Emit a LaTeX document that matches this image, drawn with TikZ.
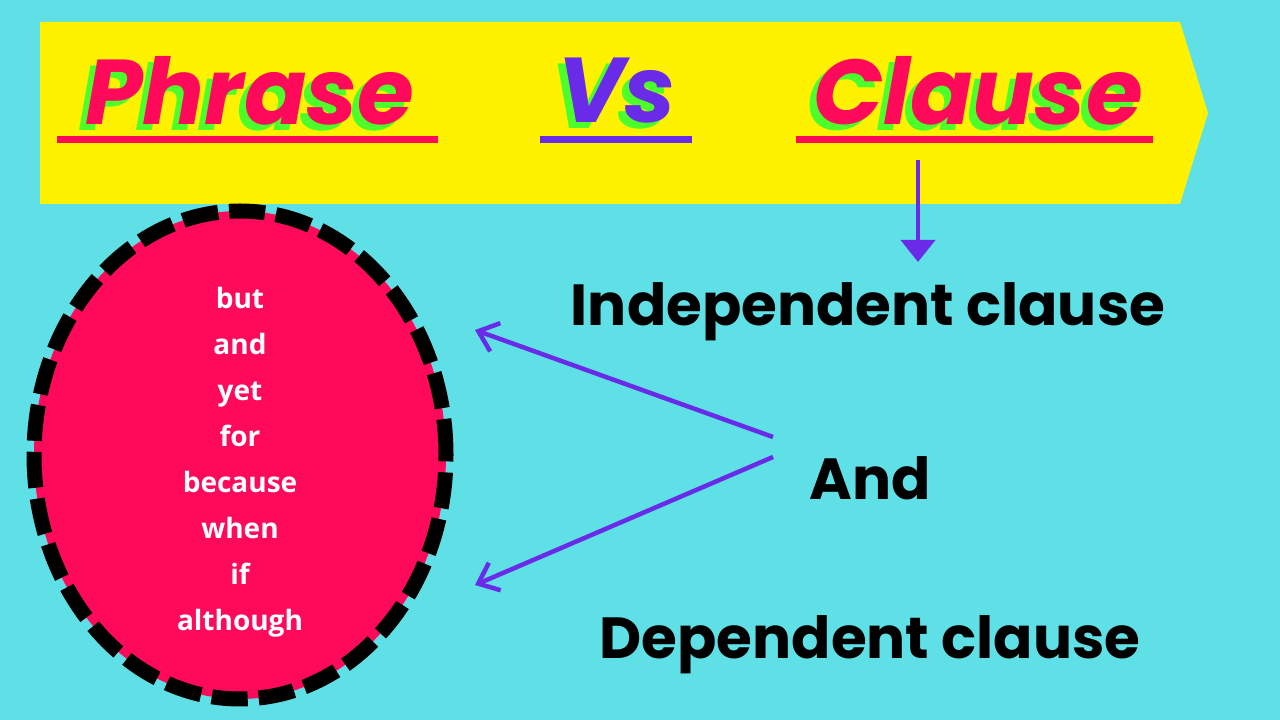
\documentclass[tikz,border=0pt]{standalone}
\usepackage{fontspec}
\setmainfont{Poppins}
\newfontfamily\listfont{Open Sans}
\usetikzlibrary{arrows.meta}
\definecolor{bg}{HTML}{5FE0E6}
\definecolor{pinkred}{HTML}{FF0A5A}
\definecolor{purp}{HTML}{6A2BE8}
\definecolor{shgreen}{HTML}{4CFF2A}
\newcommand{\shtxt}[2]{\rlap{\hspace{-7pt}\raisebox{-6pt}{\color{shgreen}#1}}{\color{#2}#1}}
\tikzset{
 x=1pt,y=1pt,
 title/.style={font=\fontsize{92}{92}\selectfont\bfseries\itshape,inner sep=0},
 big/.style={font=\fontsize{58}{58}\selectfont\bfseries,text=black},
 lst/.style={font=\listfont\fontsize{28}{46}\selectfont\bfseries,text=white},
 conn/.style={purp,line width=4.5pt,-{Straight Barb[length=18pt,width=30pt,line width=4.5pt]}}
}
\begin{document}
\begin{tikzpicture}
\useasboundingbox (0,0) rectangle (1280,720);
\fill[bg] (0,0) rectangle (1280,720);
\fill[yellow] (40,698) -- (1180,698) -- (1208,607) -- (1180,516) -- (40,516) -- cycle;
% titles
\node[title] (tp) at (250,626) {\shtxt{Phrase}{pinkred}};
\node[title] (tv) at (617,626) {\shtxt{Vs}{purp}};
\node[title] (tc) at (978,626) {\shtxt{Clause}{pinkred}};
\fill[pinkred] (57,577) rectangle (438,584);
\fill[purp] (540,577) rectangle (692,584);
\fill[pinkred] (796,577) rectangle (1153,584);
\coordinate (cl) at (918,560);
\coordinate (ind) at (918,458);
\draw[purp,line width=4pt,-{Triangle[length=22pt,width=34pt]}] (cl) -- (ind);
% ellipse
\draw[fill=pinkred,draw=black,line width=15pt,dash pattern=on 36pt off 11pt] (240,265) ellipse [x radius=206,y radius=244];
\node[lst,align=center,inner sep=0] (list) at (240,258) {but\\and\\yet\\for\\because\\when\\if\\although};
% right texts
\node[big] (i) at (868,408) {Independent clause};
\node[big] (a) at (870,242) {And};
\node[big] (d) at (870,75) {Dependent clause};
\coordinate (a1) at (773,283);
\coordinate (a2) at (773,263);
\coordinate (e1) at (475,390);
\coordinate (e2) at (475,135);
\draw[conn] (a1) -- (e1);
\draw[conn] (a2) -- (e2);
\end{tikzpicture}
\end{document}
